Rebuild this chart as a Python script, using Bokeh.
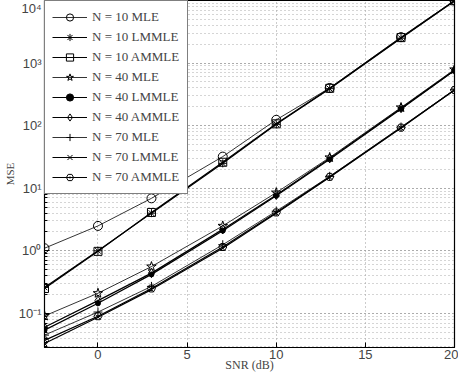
from bokeh.plotting import figure
from bokeh.models import (Range1d, FixedTicker, CustomJSTickFormatter,
                          Legend, LegendItem, LogTicker)
from bokeh.embed import file_html
from bokeh.resources import INLINE

snr = [-3, 0, 3, 7, 10, 13, 17, 20]

n10_mle   = [1.1, 2.5, 6.9, 32, 124, 400, 2600, 10000]
n10_lmmle = [0.26, 1.0, 4.0, 25, 105, 390, 2500, 9800]
n10_ammle = [0.25, 0.98, 4.1, 26, 107, 395, 2550, 9900]
n40_mle   = [0.091, 0.21, 0.56, 2.5, 8.5, 31, 195, 790]
n40_lmmle = [0.054, 0.145, 0.42, 2.1, 7.6, 29, 185, 760]
n40_ammle = [0.060, 0.16, 0.44, 2.2, 7.8, 30, 190, 770]
n70_mle   = [0.045, 0.105, 0.27, 1.25, 4.3, 15.5, 95, 375]
n70_lmmle = [0.033, 0.087, 0.24, 1.1, 4.0, 15, 92, 370]
n70_ammle = [0.037, 0.09, 0.25, 1.15, 4.1, 15.2, 93, 372]

labels = ["N = 10 MLE", "N = 10 LMMLE", "N = 10 AMMLE",
          "N = 40 MLE", "N = 40 LMMLE", "N = 40 AMMLE",
          "N = 70 MLE", "N = 70 LMMLE", "N = 70 AMMLE"]
series = [n10_mle, n10_lmmle, n10_ammle, n40_mle, n40_lmmle, n40_ammle,
          n70_mle, n70_lmmle, n70_ammle]
markers = ["circle", "asterisk", "square", "star", "circle", "diamond", "cross", "x", "hex_dot"]
fills = [False, False, False, False, True, False, False, False, False]
msizes = [9, 8, 8, 10, 5, 9, 9, 7, 8]
lwidths = [0.8, 1.2, 1.2, 0.8, 1.2, 1.2, 0.8, 1.2, 1.2]

x_ticks = [0, 5, 10, 15, 20]

p = figure(width=458, height=374, x_axis_type="linear", y_axis_type="log",
           x_range=Range1d(-3, 20), y_range=Range1d(0.0285, 10000),
           output_backend="svg", toolbar_location=None,
           min_border_left=0, min_border_right=4, min_border_top=0, min_border_bottom=0)

p.outline_line_color = "black"
p.outline_line_width = 1.2

fmt = CustomJSTickFormatter(code="""
const sup = {'-':'\u207b','0':'\u2070','1':'\u00b9','2':'\u00b2','3':'\u00b3','4':'\u2074',
             '5':'\u2075','6':'\u2076','7':'\u2077','8':'\u2078','9':'\u2079'};
const e = Math.round(Math.log10(tick)).toString();
let s = '';
for (const c of e) s += sup[c];
return '10' + s;
""")

yax = p.yaxis[0]
yax.ticker = LogTicker(num_minor_ticks=10)
yax.formatter = fmt
yax.axis_label = "MSE"
yax.axis_label_text_font = "Liberation Serif"
yax.axis_label_text_font_style = "normal"
yax.axis_label_text_font_size = "11px"
yax.axis_label_standoff = 0
yax.major_label_text_font = "Liberation Sans"
yax.major_label_text_font_size = "13px"
yax.major_tick_in = 5
yax.major_tick_out = 0
yax.minor_tick_in = 3
yax.minor_tick_out = 0
yax.major_label_standoff = 3

xax = p.xaxis[0]
xax.ticker = FixedTicker(ticks=x_ticks)
xax.axis_label = "SNR (dB)"
xax.axis_label_text_font = "Liberation Serif"
xax.axis_label_text_font_style = "normal"
xax.axis_label_text_font_size = "12px"
xax.axis_label_standoff = -4
xax.major_label_text_font = "Liberation Sans"
xax.major_label_text_font_size = "13px"
xax.major_tick_in = 5
xax.major_tick_out = 0
xax.minor_tick_line_color = None
xax.major_label_standoff = 2

# grids
p.xgrid.ticker = FixedTicker(ticks=x_ticks)
p.xgrid.grid_line_color = "#999999"
p.xgrid.grid_line_dash = "1 3"
p.xgrid.grid_line_width = 1
p.ygrid.grid_line_color = "#999999"
p.ygrid.grid_line_dash = "1 3"
p.ygrid.minor_grid_line_color = "#aaaaaa"
p.ygrid.minor_grid_line_dash = "1 3"

items = []
for lab, ys, mk, fl, ms, lw in zip(labels, series, markers, fills, msizes, lwidths):
    r1 = p.line(snr, ys, line_color="black", line_width=lw)
    r2 = p.scatter(snr, ys, marker=mk, size=ms, line_color="black", line_width=1,
                   fill_color="black" if fl else None)
    items.append(LegendItem(label=lab, renderers=[r1, r2]))

legend = Legend(items=items, location="top_left")
legend.margin = 0
legend.padding = 7
legend.spacing = 2
legend.glyph_width = 35
legend.glyph_height = 18
legend.label_height = 18
legend.label_width = 88
legend.label_text_font = "Liberation Serif"
legend.label_text_font_size = "13px"
legend.label_standoff = 5
legend.border_line_color = "black"
legend.border_line_width = 1.5
legend.background_fill_alpha = 1
p.add_layout(legend)

open("out.html", "w").write(file_html(p, INLINE))
